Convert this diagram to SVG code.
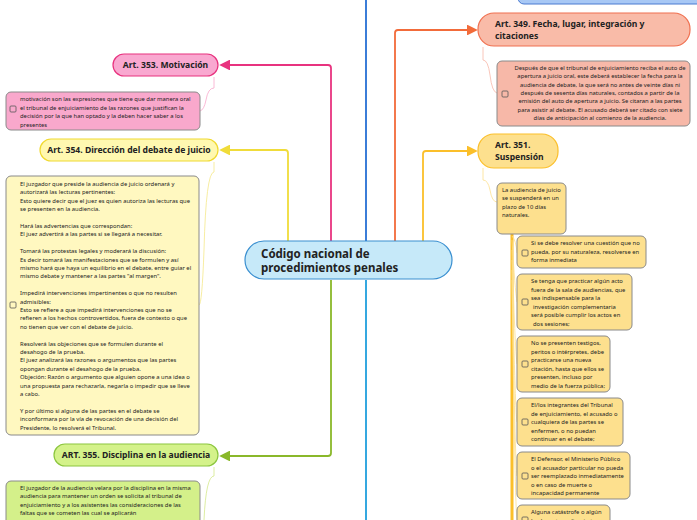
<svg xmlns="http://www.w3.org/2000/svg" width="697" height="520" viewBox="0 0 697 520">
<defs>
<style>
text{font-family:"Noto Sans","Open Sans",sans-serif;fill:#222}
.t{font-size:5.85px}
.h{font-size:8.6px;font-weight:bold}
.note{stroke:#8a8a8a;stroke-width:1}
.cb{fill:none;stroke:#555;stroke-width:0.8}
.c{fill:none;stroke-width:1.8}
.n{fill:none;stroke-width:0.8}
</style>
<marker id="ap" viewBox="0 0 6 6" refX="5" refY="3" markerWidth="6" markerHeight="6" orient="auto"><path d="M0,0 L6,3 L0,6 z" fill="#e8337f"/></marker>
<marker id="ay" viewBox="0 0 6 6" refX="5" refY="3" markerWidth="6" markerHeight="6" orient="auto"><path d="M0,0 L6,3 L0,6 z" fill="#f0dc3a"/></marker>
<marker id="ag" viewBox="0 0 6 6" refX="5" refY="3" markerWidth="6" markerHeight="6" orient="auto"><path d="M0,0 L6,3 L0,6 z" fill="#8ab82a"/></marker>
<marker id="ao" viewBox="0 0 6 6" refX="5" refY="3" markerWidth="6" markerHeight="6" orient="auto"><path d="M0,0 L6,3 L0,6 z" fill="#f26b3a"/></marker>
<marker id="aa" viewBox="0 0 6 6" refX="5" refY="3" markerWidth="6" markerHeight="6" orient="auto"><path d="M0,0 L6,3 L0,6 z" fill="#fbbf2a"/></marker>
</defs>
<rect width="697" height="520" fill="#fff"/>
<g id="connectors">
<line x1="366" y1="0" x2="366" y2="241" stroke="#3b7dd8" stroke-width="2"/>
<line x1="366" y1="280" x2="366" y2="520" stroke="#35a8e0" stroke-width="2"/>
<path class="c" stroke="#e8337f" d="M331,241 V68 Q331,65 328,65 H221" marker-end="url(#ap)"/>
<path class="c" stroke="#f0dc3a" d="M288,241 V153 Q288,150 285,150 H221" marker-end="url(#ay)"/>
<path class="c" stroke="#8ab82a" d="M331,280 V453 Q331,456 328,456 H221" marker-end="url(#ag)"/>
<path class="c" stroke="#f26b3a" d="M395,241 V33 Q395,30 398,30 H476" marker-end="url(#ao)"/>
<path class="c" stroke="#fbbf2a" d="M423,241 V154 Q423,151 426,151 H476" marker-end="url(#aa)"/>
<path class="n" stroke="#f9a8cc" d="M214,77 V88 Q208,88 206,100 Q204,110 200,111"/>
<path class="n" stroke="#f5e98a" d="M214,162 V172 Q206,172 204,250 Q202,305 199,305"/>
<path class="n" stroke="#d4e88a" d="M214,467 V476 Q206,476 204,520"/>
<path class="n" stroke="#f7b8a8" d="M483,47 V60 Q488,60 490,75 Q492,92 497,93"/>
<path class="n" stroke="#fde08e" d="M483,168 V180 Q488,180 490,190 Q492,202 497,202"/>
<line x1="512" y1="234" x2="512" y2="520" stroke="#fbbf2a" stroke-width="3"/>
<path class="n" stroke="#fde08e" d="M512,236 Q516,240 517,253"/>
<path class="n" stroke="#fde08e" d="M512,240 Q515,290 517,302"/>
<path class="n" stroke="#fde08e" d="M512,250 Q515,350 517,364"/>
<path class="n" stroke="#fde08e" d="M512,260 Q515,410 517,422"/>
<path class="n" stroke="#fde08e" d="M512,270 Q515,465 517,476"/>
<path class="n" stroke="#fde08e" d="M512,280 Q515,510 517,520"/>
</g>
<g id="top-node"><rect x="518" y="-20" width="200" height="24" rx="6" fill="#a8c8f5" stroke="#4a7ad0"/></g>
<g id="center"><rect x="245" y="241" width="207" height="38" rx="19" fill="#c6e9f9" stroke="#3a8fd0" stroke-width="1.2"/>
<text x="261" y="258" font-size="11.5" font-weight="bold">Código nacional de</text>
<text x="261" y="272" font-size="11.5" font-weight="bold">procedimientos penales</text></g>
<g id="art353"><rect x="113" y="54" width="105" height="22" rx="11" fill="#f9a8d0" stroke="#e8337f" stroke-width="1.2"/>
<text class="h" x="165.5" y="68" text-anchor="middle">Art. 353. Motivación</text></g>
<g id="note353"><rect class="note" x="6" y="92" width="194" height="38" rx="5" fill="#f9a8cc"/>
<rect class="cb" x="10" y="106" width="6" height="6" rx="1"/>
<text class="t" x="20" y="101">motivación son las expresiones que tiene que dar manera oral</text>
<text class="t" x="20" y="109.5">el tribunal de enjuiciamiento de las razones que  justifican la</text>
<text class="t" x="20" y="118">decisión por la que han optado y la deben hacer saber a los</text>
<text class="t" x="20" y="126.5">presentes</text></g>
<g id="art354"><rect x="40" y="139" width="178" height="22" rx="11" fill="#fff8b0" stroke="#f0d930" stroke-width="1.2"/>
<text class="h" x="129" y="153" text-anchor="middle">Art. 354. Dirección del debate de juicio</text></g>
<g id="note354"><rect class="note" x="6" y="176" width="193" height="259" rx="5" fill="#fff8c0"/>
<rect class="cb" x="10" y="302" width="6" height="6" rx="1"/>
<text class="t" x="20" y="186">El juzgador que preside la audiencia de juicio ordenará y</text>
<text class="t" x="20" y="194.4">autorizará las lecturas pertinentes:</text>
<text class="t" x="20" y="202.8">Esto quiere decir que el juez es quien autoriza las lecturas que</text>
<text class="t" x="20" y="211.2">se presenten en la audiencia.</text>
<text class="t" x="20" y="228">Hará las advertencias que correspondan:</text>
<text class="t" x="20" y="236.4">El juez advertirá a las partes si se llegará a necesitar.</text>
<text class="t" x="20" y="253.2">Tomará las protestas legales y moderará la discusión:</text>
<text class="t" x="20" y="261.6">Es decir tomará las manifestaciones  que se formulen y así</text>
<text class="t" x="20" y="270">mismo hará que haya un equilibrio en el debate, entre guiar el</text>
<text class="t" x="20" y="278.4">mismo debate y mantener a las partes "al margen".</text>
<text class="t" x="20" y="295.2">Impedirá intervenciones impertinentes o que no resulten</text>
<text class="t" x="20" y="303.6">admisibles:</text>
<text class="t" x="20" y="312">Esto se refiere a que impedirá intervenciones que  no se</text>
<text class="t" x="20" y="320.4">refieren a los hechos controvertidos,  fuera de contexto o que</text>
<text class="t" x="20" y="328.8">no tienen que ver con el debate de juicio.</text>
<text class="t" x="20" y="345.6">Resolverá  las objeciones que se formulen durante el</text>
<text class="t" x="20" y="354">desahogo de la prueba.</text>
<text class="t" x="20" y="362.4">El juez  analizará las  razones o  argumentos  que las partes</text>
<text class="t" x="20" y="370.8">opongan  durante el desahogo de la prueba.</text>
<text class="t" x="20" y="379.2">Objeción: Razón o argumento que alguien opone a una idea o</text>
<text class="t" x="20" y="387.6">una propuesta para rechazarla, negarla o impedir que se lleve</text>
<text class="t" x="20" y="396">a cabo.</text>
<text class="t" x="20" y="412.8">Y por último si alguna  de las partes en el debate se</text>
<text class="t" x="20" y="421.2">inconformara por la vía de revocación de una decisión del</text>
<text class="t" x="20" y="429.6">Presidente, lo resolverá el Tribunal.</text></g>
<g id="art355"><rect x="54" y="444" width="164" height="22" rx="11" fill="#d4f28a" stroke="#8cc63f" stroke-width="1.2"/>
<text class="h" x="136" y="458" text-anchor="middle">ART. 355. Disciplina en la audiencia</text></g>
<g id="note355"><rect class="note" x="6" y="481" width="194" height="45" rx="5" fill="#d4f08a"/>
<text class="t" x="20" y="490">El juzgador de la audiencia velara por la disciplina en la misma</text>
<text class="t" x="20" y="498.4">audiencia para mantener un orden se solicita al tribunal de</text>
<text class="t" x="20" y="506.8">enjuiciamiento y a los asistentes las consideraciones de las</text>
<text class="t" x="20" y="515.2">faltas que se cometen las cual se aplicarán</text></g>
<g id="art349"><rect x="478" y="13" width="212" height="33" rx="16" fill="#f9bba8" stroke="#f07050" stroke-width="1.2"/>
<text class="h" x="495" y="27">Art. 349. Fecha, lugar, integración y</text>
<text class="h" x="495" y="39">citaciones</text></g>
<g id="note349"><rect class="note" x="497" y="61" width="193" height="65" rx="5" fill="#f7b8a8"/>
<rect class="cb" x="502" y="91" width="6" height="6" rx="1"/>
<text class="t" x="600" y="70" text-anchor="middle">Después de que el tribunal de enjuiciamiento reciba el auto de</text>
<text class="t" x="600" y="78.3" text-anchor="middle">apertura a juicio oral, este deberá establecer la fecha para la</text>
<text class="t" x="600" y="86.6" text-anchor="middle">audiencia de debate, la que será no antes de veinte días ni</text>
<text class="t" x="600" y="94.9" text-anchor="middle">después de sesenta días naturales, contados a partir de la</text>
<text class="t" x="600" y="103.2" text-anchor="middle">emisión del auto de apertura a juicio. Se citaran a las partes</text>
<text class="t" x="600" y="111.5" text-anchor="middle">para asistir al debate. El acusado deberá ser citado con siete</text>
<text class="t" x="600" y="119.8" text-anchor="middle">días de anticipación al comienzo de la audiencia.</text></g>
<g id="art351"><rect x="478" y="134" width="80" height="34" rx="16" fill="#fde08e" stroke="#fbbf2a" stroke-width="1.2"/>
<text class="h" x="495" y="148">Art. 351.</text>
<text class="h" x="495" y="160">Suspensión</text></g>
<g id="note351"><rect class="note" x="497" y="183" width="69" height="51" rx="5" fill="#fde08e"/>
<text class="t" x="502" y="192">La audiencia de juicio</text>
<text class="t" x="502" y="200.4">se suspenderá en un</text>
<text class="t" x="502" y="208.8">plazo de 10 días</text>
<text class="t" x="502" y="217.2">naturales.</text></g>
<g id="s1"><rect class="note" x="517" y="236" width="129" height="32" rx="5" fill="#fde08e"/>
<rect class="cb" x="522" y="250" width="6" height="6" rx="1"/>
<text class="t" x="531" y="245">Si se debe resolver una cuestión que no</text>
<text class="t" x="531" y="253.6">pueda, por su naturaleza, resolverse en</text>
<text class="t" x="531" y="262.2">forma inmediata</text></g>
<g id="s2"><rect class="note" x="517" y="274" width="115" height="56" rx="5" fill="#fde08e"/>
<rect class="cb" x="522" y="299" width="6" height="6" rx="1"/>
<text class="t" x="531" y="283">Se tenga que practicar algún acto</text>
<text class="t" x="531" y="291.6">fuera de la sala de audiencias, que</text>
<text class="t" x="531" y="300.2">sea indispensable para la</text>
<text class="t" x="533" y="308.8">investigación complementaria</text>
<text class="t" x="531" y="317.4">será posible cumplir los actos en</text>
<text class="t" x="533" y="326">dos sesiones;</text></g>
<g id="s3"><rect class="note" x="517" y="336" width="93" height="56" rx="5" fill="#fde08e"/>
<rect class="cb" x="522" y="361" width="6" height="6" rx="1"/>
<text class="t" x="531" y="345">No se presenten testigos,</text>
<text class="t" x="531" y="353.6">peritos o intérpretes, debe</text>
<text class="t" x="531" y="362.2">practicarse una nueva</text>
<text class="t" x="531" y="370.8">citación, hasta que ellos se</text>
<text class="t" x="531" y="379.4">presenten, incluso por</text>
<text class="t" x="531" y="388">medio de la fuerza pública;</text></g>
<g id="s4"><rect class="note" x="517" y="398" width="106" height="48" rx="5" fill="#fde08e"/>
<rect class="cb" x="522" y="419" width="6" height="6" rx="1"/>
<text class="t" x="531" y="407">El/los integrantes del Tribunal</text>
<text class="t" x="531" y="415.6">de enjuiciamiento, el acusado o</text>
<text class="t" x="531" y="424.2">cualquiera de las partes se</text>
<text class="t" x="531" y="432.8">enfermen, o no puedan</text>
<text class="t" x="531" y="441.4">continuar en el debate;</text></g>
<g id="s5"><rect class="note" x="517" y="452" width="113" height="47" rx="5" fill="#fde08e"/>
<rect class="cb" x="522" y="473" width="6" height="6" rx="1"/>
<text class="t" x="531" y="461">El Defensor, el Ministerio Público</text>
<text class="t" x="531" y="469.6">o el acusador particular no pueda</text>
<text class="t" x="531" y="478.2">ser reemplazado inmediatamente</text>
<text class="t" x="531" y="486.8">o en caso de muerte o</text>
<text class="t" x="531" y="495.4">incapacidad permanente</text></g>
<g id="s6"><rect class="note" x="517" y="505" width="93" height="30" rx="5" fill="#fde08e"/>
<rect class="cb" x="522" y="517" width="6" height="6" rx="1"/>
<text class="t" x="531" y="514">Alguna catástrofe o algún</text>
<text class="t" x="531" y="522.6">hecho extraordinario torne</text></g>
</svg>
